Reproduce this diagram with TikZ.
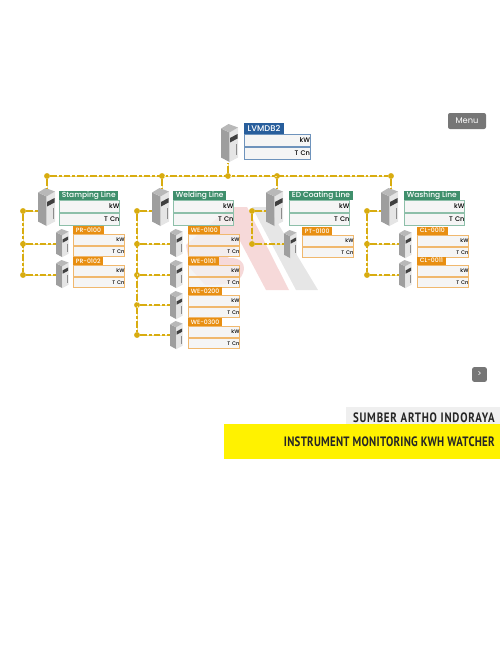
\documentclass[tikz,border=0pt]{standalone}
\usepackage{fontspec}
\setmainfont{Poppins}
\newfontfamily\rowfont{Poppins Medium}
\newfontfamily\bannerfont[FakeStretch=0.8,LetterSpace=2]{PT Sans}
\newfontfamily\companyfont[FakeStretch=0.8,LetterSpace=6]{PT Sans}
\usepackage{xcolor}
\usepackage{tikz}
\usetikzlibrary{positioning,calc}
\definecolor{busGold}{HTML}{D8AC10}
\definecolor{busPale}{HTML}{F3E08E}
\definecolor{lineGreen}{HTML}{3F8F6C}
\definecolor{lineGreenEdge}{HTML}{8DBFA9}
\definecolor{mainBlue}{HTML}{285E9C}
\definecolor{mainBlueEdge}{HTML}{6E93BC}
\definecolor{subOrange}{HTML}{E88F12}
\definecolor{subOrangeEdge}{HTML}{F0B86E}
\definecolor{rowGrey}{HTML}{F3F3F3}
\definecolor{markPink}{HTML}{F6D9D9}
\definecolor{markGrey}{HTML}{E6E6E6}
\definecolor{bandGrey}{HTML}{EFEFEF}
\definecolor{btnGrey}{HTML}{767676}
\tikzset{
  bus/.style={line width=1.1pt, draw=busGold, dash pattern=on 5pt off 1.5pt on 2pt off 1.5pt, preaction={draw=busPale, solid}},
  busdot/.style={circle, fill=busGold, inner sep=0pt, minimum size=4.4pt},
  cabnode/.style={inner sep=0pt, minimum width=#1*12.75pt, minimum height=#1*28.5pt, anchor=north west},
  tabbig/.style={fill=#1, text=white, font=\rowfont\fontsize{5.6}{6}\selectfont, inner xsep=2pt, inner ysep=0pt, minimum height=6.8pt, anchor=south west},
  tabmain/.style={tabbig=#1, font=\rowfont\fontsize{6.2}{7}\selectfont, inner xsep=2.6pt, minimum height=8.2pt},
  tabsmall/.style={fill=#1, text=white, font=\rowfont\fontsize{4.6}{5}\selectfont, inner xsep=2pt, inner ysep=0pt, minimum height=6pt, anchor=south west},
  rowkw/.style={draw=#1, line width=.75pt, fill=rowGrey, fill opacity=.8, text opacity=1, inner xsep=0pt, inner ysep=0pt, align=right},
  rowtcn/.style={draw=#1, line width=.75pt, fill=rowGrey, fill opacity=.8, text opacity=1, inner xsep=0pt, inner ysep=0pt, align=right},
  menubtn/.style={fill=btnGrey, text=white, rounded corners=1.5pt, inner sep=0pt},
  bannertext/.style={text=black!85, inner sep=0pt, anchor=east},
}
% cabinet: name, left, top, scale
\newcommand{\cabinet}[4]{
  \node[cabnode=#4] (#1) at (#2,#3) {};
  \begin{scope}[shift={(#2,#3)},scale=#4]
    \fill[black!38] (0,4.5) -- (8.5,8.5) -- (8.5,38) -- (0,33.5) -- cycle;
    \fill[black!10] (8.5,8.5) -- (17,3.5) -- (17,33.5) -- (8.5,38) -- cycle;
    \fill[black!28] (0,4.5) -- (7.5,0) -- (17,3.5) -- (8.5,8.5) -- cycle;
    \fill[black!75] (9,14) -- (16.5,10) -- (16.5,14.5) -- (9,18.5) -- cycle;
    \draw[black!45, line width=.4pt] (15,20) -- (15,31);
  \end{scope}
}
% big panel: name, left, top of rows, width, title, tab style, edge colour
\newcommand{\panelbig}[7]{
  \node[rowkw=#7, anchor=north west, text width=#4*.75pt, minimum height=9pt, font=\rowfont\fontsize{5}{5}\selectfont] (#1kw) at (#2,#3) {kW\hspace*{5pt}};
  \node[rowtcn=#7, below=0pt of #1kw.south, text width=#4*.75pt, minimum height=9pt, font=\rowfont\fontsize{5}{5}\selectfont] (#1tcn) {T Cn\hspace*{2pt}};
  \node[#6] (#1tab) at (#1kw.north west) {#5};
}
% small panel: name, left, top of rows, title
\newcommand{\panelsmall}[4]{
  \node[rowkw=subOrangeEdge, anchor=north west, text width=38.25pt, minimum height=8pt, font=\rowfont\fontsize{3.9}{5}\selectfont] (#1kw) at (#2,#3) {kW\hspace*{4.5pt}};
  \node[rowtcn=subOrangeEdge, below=0pt of #1kw.south, text width=38.25pt, minimum height=8pt, font=\rowfont\fontsize{3.9}{5}\selectfont] (#1tcn) {T Cn\hspace*{2pt}};
  \node[tabsmall=subOrange] (#1tab) at (#1kw.north west) {#4};
}
\begin{document}
\begin{tikzpicture}[x=.75pt,y=-.75pt]
\useasboundingbox (0,0) rectangle (500,650);
% watermark
\fill[markGrey] (252,207) -- (268,207) -- (318,290) -- (296,290) -- cycle;
\fill[markPink] (247,207) -- (289,290) -- (266,290) -- (240,241) -- (228,258) .. controls (242,257) and (246,265) .. (243,273) .. controls (240,283) and (226,285) .. (205,285) -- (190,268) -- (186,245) -- (230,207) -- cycle;
% buttons
\node[menubtn, minimum width=28.5pt, minimum height=12pt, font=\fontsize{6.2}{7}\selectfont] (menu) at (467,121) {Menu};
\node[menubtn, minimum width=11pt, minimum height=11pt, font=\fontsize{6}{7}\selectfont] (next) at (479.5,374.5) {>};
% cabinets
\cabinet{cabMain}{221}{124}{1}
\cabinet{cabStamp}{38}{188}{1}
\cabinet{cabWeld}{152}{188}{1}
\cabinet{cabEd}{266}{188}{1}
\cabinet{cabWash}{381}{188}{1}
\cabinet{cabPr1}{56}{229}{.74}
\cabinet{cabPr2}{56}{260}{.74}
\cabinet{cabWe1}{170}{229}{.74}
\cabinet{cabWe2}{170}{260}{.74}
\cabinet{cabWe3}{170}{291}{.74}
\cabinet{cabWe4}{170}{321}{.74}
\cabinet{cabPt1}{284}{230}{.74}
\cabinet{cabCl1}{399}{230}{.74}
\cabinet{cabCl2}{399}{260}{.74}
% panels
\panelbig{main}{244}{134}{65.5}{LVMDB2}{tabmain=mainBlue}{mainBlueEdge}
\panelbig{stamp}{59}{200}{60}{Stamping Line}{tabbig=lineGreen}{lineGreenEdge}
\panelbig{weld}{173}{200}{60}{Welding Line}{tabbig=lineGreen}{lineGreenEdge}
\panelbig{ed}{289}{200}{60}{ED Coating Line}{tabbig=lineGreen}{lineGreenEdge}
\panelbig{wash}{404}{200}{60}{Washing Line}{tabbig=lineGreen}{lineGreenEdge}
\panelsmall{pr1}{73}{234}{PR-0100}
\panelsmall{pr2}{73}{265}{PR-0102}
\panelsmall{we1}{188}{234}{WE-0100}
\panelsmall{we2}{188}{265}{WE-0101}
\panelsmall{we3}{188}{295}{WE-0200}
\panelsmall{we4}{188}{326}{WE-0300}
\panelsmall{pt1}{302}{235}{PT-0100}
\panelsmall{cl1}{417}{235}{CL-0010}
\panelsmall{cl2}{417}{265}{CL-0011}
% bus dots
\node[busdot] (dotStamp) at (47,176) {};
\node[busdot] (dotWeld) at (162,176) {};
\node[busdot] (dotMain) at (228,176) {};
\node[busdot] (dotEd) at (277,176) {};
\node[busdot] (dotWash) at (391,176) {};
\node[busdot] (dotSa) at (23,211) {};
\node[busdot] (dotSb) at (23,244) {};
\node[busdot] (dotSc) at (23,275) {};
\node[busdot] (dotWa) at (137,211) {};
\node[busdot] (dotWb) at (137,244) {};
\node[busdot] (dotWc) at (137,275) {};
\node[busdot] (dotWd) at (137,305) {};
\node[busdot] (dotWe) at (137,335) {};
\node[busdot] (dotEa) at (252,211) {};
\node[busdot] (dotEb) at (252,244) {};
\node[busdot] (dotCa) at (367,211) {};
\node[busdot] (dotCb) at (367,244) {};
\node[busdot] (dotCc) at (367,275) {};
% main bus
\draw[bus] (dotStamp) -- (dotWash);
\draw[bus] (dotMain) -- (dotMain |- cabMain.south);
\draw[bus] (dotStamp) -- (dotStamp |- cabStamp.north);
\draw[bus] (dotWeld) -- (dotWeld |- cabWeld.north);
\draw[bus] (dotEd) -- (dotEd |- cabEd.north);
\draw[bus] (dotWash) -- (dotWash |- cabWash.north);
% stamping
\draw[bus] (dotSa) -- (dotSc);
\draw[bus] (dotSa) -- (dotSa -| cabStamp.west);
\draw[bus] (dotSb) -- (dotSb -| cabPr1.west);
\draw[bus] (dotSc) -- (dotSc -| cabPr2.west);
% welding
\draw[bus] (dotWa) -- (dotWe);
\draw[bus] (dotWa) -- (dotWa -| cabWeld.west);
\draw[bus] (dotWb) -- (dotWb -| cabWe1.west);
\draw[bus] (dotWc) -- (dotWc -| cabWe2.west);
\draw[bus] (dotWd) -- (dotWd -| cabWe3.west);
\draw[bus] (dotWe) -- (dotWe -| cabWe4.west);
% ed coating
\draw[bus] (dotEa) -- (dotEb);
\draw[bus] (dotEa) -- (dotEa -| cabEd.west);
\draw[bus] (dotEb) -- (dotEb -| cabPt1.west);
% washing
\draw[bus] (dotCa) -- (dotCc);
\draw[bus] (dotCa) -- (dotCa -| cabWash.west);
\draw[bus] (dotCb) -- (dotCb -| cabCl1.west);
\draw[bus] (dotCc) -- (dotCc -| cabCl2.west);
% banner
\fill[bandGrey] (346,407) rectangle (500,424);
\fill[yellow] (224,424) rectangle (500,459);
\node[bannertext, font=\companyfont\bfseries\fontsize{10.2}{12}\selectfont] (company) at (495,417.5) {SUMBER ARTHO INDORAYA};
\node[bannertext, font=\bannerfont\bfseries\fontsize{10.2}{12}\selectfont] (title) at (495,441.5) {INSTRUMENT MONITORING KWH WATCHER};
\end{tikzpicture}
\end{document}
